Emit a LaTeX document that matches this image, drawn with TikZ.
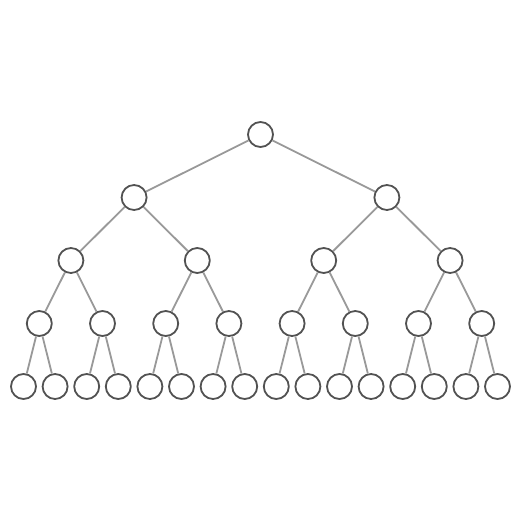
\documentclass[tikz,border=0pt]{standalone}
\begin{document}
\begin{tikzpicture}[x=1pt,y=-1pt,
  vtx/.style={circle,draw=black!68,line width=1.8pt,fill=white,minimum size=25pt,inner sep=0pt},
  edge/.style={draw=black!40,line width=1.8pt}]
\useasboundingbox (0,0) rectangle (522,522);
\foreach \L in {0,...,4}{
  \pgfmathtruncatemacro\n{2^\L-1}
  \pgfmathsetmacro\w{2^(4-\L)}
  \foreach \i in {0,...,\n}{
    \node[vtx] (n\L-\i) at ({23.5+31.6*(\i*\w+(\w-1)/2)},{134.5+63*\L}) {};
  }
}
\foreach \L in {1,...,4}{
  \pgfmathtruncatemacro\n{2^\L-1}
  \pgfmathtruncatemacro\pl{\L-1}
  \foreach \i in {0,...,\n}{
    \pgfmathtruncatemacro\p{int(\i/2)}
    \draw[edge] (n\pl-\p) -- (n\L-\i);
  }
}
\end{tikzpicture}
\end{document}
